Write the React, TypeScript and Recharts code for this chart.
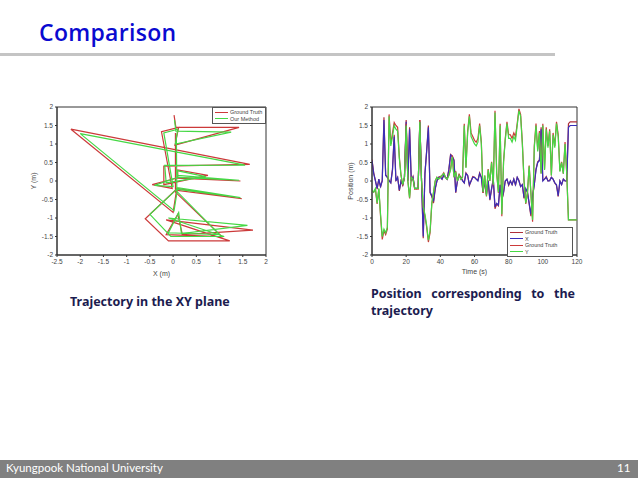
import React from 'react';
import { LineChart, Line, XAxis, YAxis, ReferenceArea, Legend } from 'recharts';

// ---------- axis ticks ----------
const xyTicksX = [-2.5, -2, -1.5, -1, -0.5, 0, 0.5, 1, 1.5, 2];
const xyTicksY = [-2, -1.5, -1, -0.5, 0, 0.5, 1, 1.5, 2];
const timeTicks = [0, 20, 40, 60, 80, 100, 120];
const posTicks = [-2, -1.5, -1, -0.5, 0, 0.5, 1, 1.5, 2];

// ---------- legend names ----------
const trajectoryNames = ['Ground Truth', 'Our Method'];
const positionNames = ['Ground Truth', 'X', 'Ground Truth', 'Y'];

// ---------- XY trajectory ----------
const truthTrackX = [0.02, 0.06, 1.42, 0.04, 0.12, -0.25, -0.02, -0.45, 0.08, 1.45, 0.1, 0.1, 0.75, -0.2, -0.2, 1.65, -2.2, 0.0, 0.08, 1.48, 0.05, -0.6, -0.1, 1.22, -0.15, 1.72, 0.2, 0.1, -0.15, 1.05, 0.05, 0.05];
const truthTrackY = [1.78, 1.45, 1.45, 0.97, 1.45, 1.33, -0.2, -0.1, 0.08, 0.0, 0.1, 0.3, 0.15, -0.1, 0.4, 0.45, 1.4, -0.85, -0.2, -0.48, -0.25, -1.02, -1.62, -1.62, -1.05, -1.33, -1.45, -0.9, -1.45, -1.5, -0.3, 1.3];
const methodTrackX = [0.03, 0.06, 1.25, 0.05, 0.1, -0.2, 0.0, -0.4, 0.1, 1.42, 0.1, 0.08, 0.7, -0.15, -0.18, 1.55, -2.0, 0.02, 0.1, 1.45, 0.08, -0.5, -0.05, 1.1, -0.1, 1.6, 0.18, 0.12, -0.1, 1.0, 0.08, 0.07];
const methodTrackY = [1.65, 1.35, 1.32, 1.0, 1.4, 1.3, -0.15, -0.12, 0.1, 0.02, 0.15, 0.28, 0.12, -0.05, 0.42, 0.43, 1.28, -0.8, -0.18, -0.45, -0.22, -0.9, -1.5, -1.5, -1.0, -1.2, -1.42, -0.85, -1.4, -1.45, -0.28, 1.25];

// ---------- position vs time ----------
const timeSec = [0,1,2,3,4,5,6,7,8,9,10,11,12,13,14,15,16,17,18,19,20,21,22,23,24,25,26,27,28,29,30,31,32,33,34,35,36,37,38,39,40,41,42,43,44,45,46,47,48,49,50,51,52,53,54,55,56,57,58,59,60,61,62,63,64,65,66,67,68,69,70,71,72,73,74,75,76,77,78,79,80,81,82,83,84,85,86,87,88,89,90,91,92,93,94,95,96,97,98,99,100,101,102,103,104,105,106,107,108,109,110,111,112,113,114,115,116,117,118,119,120];
const xEst = [0.55,0.2,0.0,-0.2,0.05,-0.15,0.0,1.65,0.15,0.1,0.0,-0.05,0.3,1.2,0.0,0.1,-0.25,0.0,-0.1,0.1,1.6,0.0,1.4,0.0,0.1,-0.2,-0.2,-0.2,1.6,0.0,-1.5,0.2,0.8,1.45,-0.3,-0.4,-0.55,-0.2,0.0,0.1,0.1,0.05,0.15,0.1,0.05,0.3,0.7,0.65,0.55,-0.3,0.0,0.15,0.1,0.0,-0.05,0.2,0.15,-0.1,0.0,0.1,0.1,0.05,0.0,0.2,0.1,-0.3,0.0,-0.35,0.0,-0.5,-0.2,0.05,-0.7,-0.6,-0.65,-0.1,-0.5,-0.3,0.0,0.05,-0.1,0.0,-0.1,0.05,-0.1,0.1,0.0,-0.15,-0.1,-0.45,-0.2,-0.3,-0.6,-0.9,-0.4,-0.1,0.3,0.5,0.55,1.4,0.0,0.05,0.1,0.0,0.0,0.1,0.05,-0.05,-0.1,-0.4,0.0,-0.1,0.05,0.0,0.0,1.45,1.5,1.5,1.5,1.5,1.5];
const xTruth = [0.58,0.22,0.02,-0.22,0.05,-0.17,0.02,1.72,0.17,0.1,0.02,-0.05,0.32,1.25,0.02,0.1,-0.27,0.0,-0.12,0.1,1.65,0.02,1.45,0.0,0.12,-0.2,-0.22,-0.2,1.65,0.0,-1.55,0.22,0.82,1.5,-0.32,-0.42,-0.6,-0.22,0.0,0.1,0.12,0.05,0.17,0.1,0.05,0.32,0.72,0.68,0.57,-0.32,0.0,0.17,0.1,0.02,-0.05,0.22,0.15,-0.12,0.0,0.12,0.1,0.05,0.02,0.22,0.1,-0.32,0.0,-0.37,0.02,-0.52,-0.22,0.05,-0.75,-0.62,-0.67,-0.1,-0.52,-0.32,0.0,0.05,-0.12,0.0,-0.1,0.05,-0.12,0.1,0.02,-0.15,-0.1,-0.47,-0.22,-0.3,-0.62,-0.95,-0.42,-0.1,0.32,0.52,0.57,1.45,0.02,0.05,0.12,0.0,0.02,0.1,0.05,-0.05,-0.12,-0.42,0.0,-0.1,0.05,0.0,0.0,1.55,1.6,1.6,1.6,1.6,1.6];
const yEst = [-0.25,-0.3,-0.2,-0.6,-0.2,-0.9,-1.5,-1.3,-1.4,-1.25,1.75,0.95,1.2,1.5,1.4,1.35,0.6,0.15,-0.1,0.1,1.5,0.0,-0.45,0.1,0.05,-0.2,-0.2,-0.2,1.6,0.0,-0.7,-0.9,-1.2,-1.6,-1.35,-0.6,-0.3,0.0,0.1,0.05,0.1,0.15,0.2,0.1,0.05,0.15,0.3,0.65,0.1,0.25,0.0,0.15,0.05,0.1,1.5,0.35,1.3,1.75,1.2,1.1,1.0,0.95,1.05,1.5,1.0,-0.3,0.15,-0.4,0.3,0.0,0.5,-0.1,1.85,0.2,-0.3,1.5,-0.9,0.5,1.1,1.55,1.15,1.15,1.05,1.2,1.1,1.5,1.9,1.75,1.0,0.0,-0.6,-0.3,0.4,-0.3,-1.05,0.9,1.5,0.8,1.3,0.2,1.5,0.3,1.4,0.9,1.35,0.15,1.25,0.9,1.55,1.2,0.25,0.5,0.2,1.0,0.2,-1.05,-1.05,-1.05,-1.05,-1.05,-1.05];
const yTruth = [-0.27,-0.3,-0.22,-0.62,-0.22,-0.95,-1.58,-1.35,-1.45,-1.3,1.8,1.0,1.3,1.58,1.5,1.45,0.65,0.15,-0.12,0.1,1.55,0.0,-0.47,0.1,0.05,-0.22,-0.2,-0.22,1.65,0.0,-0.72,-0.95,-1.25,-1.65,-1.4,-0.62,-0.32,0.0,0.1,0.05,0.12,0.15,0.22,0.1,0.05,0.17,0.32,0.68,0.1,0.27,0.0,0.17,0.05,0.12,1.55,0.37,1.35,1.8,1.3,1.2,1.1,1.05,1.15,1.55,1.05,-0.32,0.15,-0.42,0.32,0.0,0.52,-0.12,1.9,0.22,-0.32,1.55,-0.95,0.52,1.15,1.6,1.25,1.25,1.15,1.3,1.2,1.55,1.95,1.8,1.05,0.0,-0.62,-0.32,0.42,-0.32,-1.1,0.95,1.55,0.85,1.35,0.2,1.55,0.32,1.45,0.95,1.4,0.15,1.3,0.95,1.6,1.25,0.27,0.52,0.2,1.05,0.2,-1.05,-1.05,-1.05,-1.05,-1.05,-1.05];

const truthTrack = truthTrackX.map((x, i) => ({ x, y: truthTrackY[i] }));
const methodTrack = methodTrackX.map((x, i) => ({ x, y: methodTrackY[i] }));
const positionTable = timeSec.map((t, i) => ({ t, xTruth: xTruth[i], xEst: xEst[i], yTruth: yTruth[i], yEst: yEst[i] }));

const RED = '#cc3a3a';
const MAROON = '#b0303a';
const GREEN = '#45d845';
const BLUE = '#3a2fb8';
const AXIS = '#333';
const tickStyle = { fontSize: 6.5, fill: '#444', fontFamily: 'Liberation Sans, Arial, sans-serif' };
const labelStyle = { fontSize: 7, fill: '#444', fontFamily: 'Liberation Sans, Arial, sans-serif' };

const legendBox = (width: number, names: string[], colors: string[]) => () => (
  <div style={{ width, background: '#fff', border: '1px solid #555', padding: '1px 2px', boxSizing: 'border-box', fontFamily: 'Liberation Sans, Arial, sans-serif', fontSize: 5.5, color: '#444', lineHeight: '6.5px', whiteSpace: 'nowrap' }}>
    {names.map((n, i) => (
      <div key={i} style={{ display: 'flex', alignItems: 'center' }}>
        <span style={{ display: 'inline-block', width: 13, height: 0, borderTop: `1.2px solid ${colors[i]}`, marginRight: 2, flexShrink: 0 }} />
        <span>{n}</span>
      </div>
    ))}
  </div>
);

function TrajectoryChart() {
  return (
    <LineChart width={256} height={190} margin={{ top: 10, right: 10, bottom: 10, left: 12 }}>
      <XAxis type="number" dataKey="x" domain={[-2.5, 2]} ticks={xyTicksX} allowDataOverflow tick={tickStyle} tickSize={2} tickMargin={2} stroke={AXIS} height={22}
        label={{ value: 'X (m)', position: 'insideBottom', offset: 1, style: labelStyle }} />
      <YAxis type="number" dataKey="y" domain={[-2, 2]} ticks={xyTicksY} allowDataOverflow tick={tickStyle} tickSize={2} tickMargin={2} stroke={AXIS} width={25}
        label={{ value: 'Y (m)', angle: -90, position: 'insideLeft', offset: 2, style: { ...labelStyle, textAnchor: 'middle' } }} />
      <ReferenceArea x1={-2.5} x2={2} y1={-2} y2={2} fill="none" fillOpacity={0} stroke={AXIS} strokeOpacity={1} />
      <Line data={truthTrack} dataKey="y" name="Ground Truth" stroke={RED} strokeWidth={1.2} dot={false} isAnimationActive={false} />
      <Line data={methodTrack} dataKey="y" name="Our Method" stroke={GREEN} strokeWidth={1.2} dot={false} isAnimationActive={false} />
      <Legend layout="vertical" align="center" verticalAlign="middle" wrapperStyle={{ top: 10, left: 192, width: 54 }} content={legendBox(54, trajectoryNames, [RED, GREEN])} />
    </LineChart>
  );
}

function PositionChart() {
  return (
    <LineChart width={247} height={190} data={positionTable} margin={{ top: 10, right: 10, bottom: 10, left: 12 }}>
      <XAxis type="number" dataKey="t" domain={[0, 120]} ticks={timeTicks} allowDataOverflow tick={tickStyle} tickSize={2} tickMargin={2} stroke={AXIS} height={22}
        label={{ value: 'Time (s)', position: 'insideBottom', offset: 3, style: labelStyle }} />
      <YAxis type="number" domain={[-2, 2]} ticks={posTicks} allowDataOverflow tick={tickStyle} tickSize={2} tickMargin={2} stroke={AXIS} width={20}
        label={{ value: 'Position (m)', angle: -90, position: 'insideLeft', offset: -1, style: { ...labelStyle, textAnchor: 'middle' } }} />
      <ReferenceArea x1={0} x2={120} y1={-2} y2={2} fill="none" fillOpacity={0} stroke={AXIS} strokeOpacity={1} />
      <Line dataKey="xTruth" name="Ground Truth" stroke={MAROON} strokeWidth={1.2} dot={false} isAnimationActive={false} />
      <Line dataKey="xEst" name="X" stroke={BLUE} strokeWidth={1.2} dot={false} isAnimationActive={false} />
      <Line dataKey="yTruth" name="Ground Truth " stroke={RED} strokeWidth={1.2} dot={false} isAnimationActive={false} />
      <Line dataKey="yEst" name="Y" stroke={GREEN} strokeWidth={1.2} dot={false} isAnimationActive={false} />
      <Legend layout="vertical" align="center" verticalAlign="middle" wrapperStyle={{ top: 130, left: 167, width: 66 }} content={legendBox(66, positionNames, [MAROON, BLUE, RED, GREEN])} />
    </LineChart>
  );
}

export default function App() {
  return (
    <div style={{ position: 'absolute', left: 0, top: 0, width: 638, height: 478, background: '#fff', overflow: 'hidden', fontFamily: 'Noto Sans, sans-serif' }}>
      <div style={{ position: 'absolute', left: 39, top: 16, fontSize: 23, fontWeight: 600, color: '#0a0ad0', fontFamily: 'Open Sans, sans-serif', letterSpacing: 0.3 }}>Comparison</div>
      <div style={{ position: 'absolute', left: 0, top: 53, width: 555, height: 3, background: '#c4c4c4' }} />
      <div style={{ position: 'absolute', left: 20, top: 97 }}><TrajectoryChart /></div>
      <div style={{ position: 'absolute', left: 340, top: 97 }}><PositionChart /></div>
      <div style={{ position: 'absolute', left: 70, top: 293, fontSize: 12.5, fontWeight: 700, color: '#1c1c50' }}>Trajectory in the XY plane</div>
      <div style={{ position: 'absolute', left: 371, top: 285, width: 204, fontSize: 12.5, fontWeight: 700, color: '#1c1c50', lineHeight: '17px', textAlign: 'justify' }}>Position corresponding to the trajectory</div>
      <div style={{ position: 'absolute', left: 0, top: 460, width: 638, height: 18, background: '#808080' }}>
        <span style={{ position: 'absolute', left: 6, top: 1, fontSize: 11.5, color: '#fff', fontFamily: 'Lato, sans-serif' }}>Kyungpook National University</span>
        <span style={{ position: 'absolute', left: 617, top: 1, fontSize: 11.5, color: '#fff', fontFamily: 'Lato, sans-serif' }}>11</span>
      </div>
    </div>
  );
}
